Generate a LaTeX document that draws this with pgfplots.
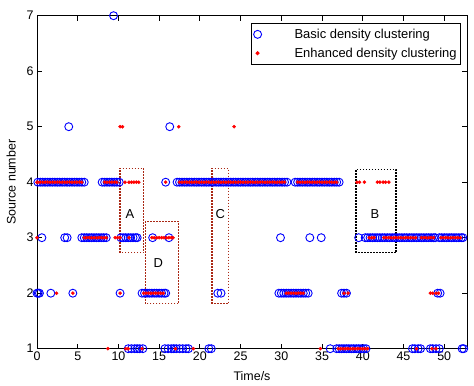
\documentclass[border=0pt]{standalone}
\usepackage{pgfplots}
\pgfplotsset{compat=1.18}
\usepackage{fontspec}
\setmainfont{Liberation Sans}
\definecolor{boxred}{RGB}{170,40,20}
\begin{document}
\begin{tikzpicture}
\begin{axis}[name=ax,
  scale only axis, width=430bp, height=333bp,
  xmin=0, xmax=52.8, ymin=1, ymax=7,
  xtick={0,5,...,50}, ytick={1,2,...,7},
  tick align=inside, tick pos=both, major tick length=5bp,
  axis line style={line width=0.8bp}, every tick/.style={black,line width=0.8bp},
  /pgf/number format/assume math mode=true,
  tick label style={font=\fontsize{12.5}{14}\selectfont},
  label style={font=\fontsize{12.5}{14}\selectfont},
  xlabel={Time/s}, ylabel={Source number},
  xlabel style={yshift=-4bp}, ylabel style={yshift=4bp},
  clip=false,
  legend image post style={xshift=20bp},
  legend style={at={(rel axis cs:0.986,0.978)}, anchor=north east, draw=black, line width=0.8bp,
    font=\fontsize{13}{15}\selectfont, inner xsep=2bp, inner ysep=3.5bp, row sep=4bp, column sep=31bp,
    cells={anchor=west}},
]
% Basic density clustering (blue circles)
\addplot[only marks, mark=o, mark size=4pt, blue, mark options={line width=0.9bp}] coordinates {
(9.4,7)
(3.9,5) (16.3,5)
(0.1,4)(0.4,4)(0.7,4)(1.0,4)(1.3,4)(1.6,4)(1.9,4)(2.2,4)(2.5,4)(2.8,4)(3.1,4)(3.4,4)(3.7,4)(4.0,4)(4.3,4)(4.6,4)(4.9,4)(5.2,4)(5.5,4)(5.8,4)
(8.0,4)(8.3,4)(8.6,4)(8.9,4)(9.2,4)(9.5,4)(9.8,4)(10.1,4)
(15.8,4)
(17.2,4)(17.5,4)(17.8,4)(18.1,4)(18.4,4)(18.7,4)(19.0,4)(19.3,4)(19.6,4)(19.9,4)(20.2,4)(20.5,4)(20.8,4)(21.1,4)(21.4,4)(21.7,4)(22.0,4)(22.3,4)(22.6,4)(22.9,4)(23.2,4)(23.5,4)(23.8,4)(24.1,4)(24.4,4)(24.7,4)(25.0,4)(25.3,4)(25.6,4)(25.9,4)(26.2,4)(26.5,4)(26.8,4)(27.1,4)(27.4,4)(27.7,4)(28.0,4)(28.3,4)(28.6,4)(28.9,4)(29.2,4)(29.5,4)(29.8,4)(30.1,4)(30.4,4)(30.7,4)
(31.7,4)(32.0,4)(32.3,4)(32.6,4)(32.9,4)(33.2,4)(33.5,4)(33.8,4)(34.1,4)(34.4,4)(34.7,4)(35.0,4)(35.3,4)(35.6,4)(35.9,4)(36.2,4)(36.5,4)(36.8,4)(37.1,4)
(0.6,3) (3.4,3)(3.7,3)
(5.5,3)(5.8,3)(6.1,3)(6.4,3)(6.7,3)(7.0,3)(7.3,3)(7.6,3)(7.9,3)(8.2,3)(8.5,3)
(10.3,3)(10.6,3)(10.9,3)(11.2,3)(11.5,3)(11.8,3)(12.1,3)(12.3,3)
(14.2,3)(16.2,3)
(29.9,3)(33.5,3)(34.9,3)
(39.5,3)
(40.3,3)(40.6,3)(40.9,3)(41.2,3)(41.5,3)(41.8,3)(42.1,3)(42.4,3)(42.7,3)(43.0,3)(43.3,3)(43.6,3)(43.9,3)(44.2,3)(44.5,3)(44.8,3)(45.1,3)(45.4,3)(45.7,3)(46.0,3)(46.3,3)(46.6,3)
(46.9,3)(47.2,3)(47.5,3)(47.8,3)(48.1,3)(48.4,3)(48.7,3)(48.9,3)
(49.4,3)(49.7,3)(50.0,3)(50.3,3)(50.6,3)(50.9,3)(51.2,3)(51.5,3)(51.8,3)(52.1,3)(52.3,3)
(0.0,2)(0.15,2)(0.3,2)(1.7,2)(4.4,2)(10.2,2)
(12.9,2)(13.2,2)(13.5,2)(13.8,2)(14.1,2)(14.4,2)(14.7,2)(15.0,2)(15.3,2)(15.6,2)(15.8,2)
(22.2,2)(22.6,2)
(29.7,2)(30.0,2)(30.3,2)(30.6,2)(30.9,2)(31.2,2)(31.5,2)(31.8,2)(32.1,2)(32.4,2)(32.7,2)(33.0,2)(33.3,2)
(37.4,2)(37.7,2)(38.0,2)
(49.2,2)(49.5,2)
(11.2,1)(11.6,1)(12.0,1)(12.3,1)(12.6,1)(13.0,1)
(15.7,1)(16.1,1)(16.5,1)(16.8,1)(17.1,1)(17.5,1)(17.9,1)(18.3,1)(18.6,1)
(21.1,1)(21.4,1)
(36.0,1)
(36.8,1)(37.1,1)(37.4,1)(37.7,1)(38.0,1)(38.3,1)(38.6,1)(38.9,1)(39.2,1)(39.5,1)(39.8,1)(40.1,1)(40.4,1)
(46.1,1)(46.4,1)(46.8,1)(47.1,1)
(48.3,1)(48.6,1)(49.0,1)(49.4,1)
(52.2,1)(52.4,1)
};
\addlegendentry{Basic density clustering}
% Enhanced density clustering (red dots)
\addplot[only marks, mark=*, mark size=1.6pt, red] coordinates {
(10.2,5)(10.5,5)(17.4,5)(24.2,5)
(0.0,4)(0.1,4)(0.4,4)(0.7,4)(1.0,4)(1.3,4)(1.6,4)(1.9,4)(2.2,4)(2.5,4)(2.8,4)(3.1,4)(3.4,4)(3.7,4)(4.0,4)(4.3,4)(4.6,4)(4.9,4)(5.2,4)(5.5,4)
(8.3,4)(8.6,4)(8.9,4)(9.2,4)(9.5,4)(9.8,4)
(10.8,4)(11.3,4)(11.6,4)(11.9,4)(12.2,4)(12.5,4)
(15.8,4)
(17.5,4)(17.8,4)(18.1,4)(18.4,4)(18.7,4)(19.0,4)(19.3,4)(19.6,4)(19.9,4)(20.2,4)(20.5,4)(20.8,4)(21.1,4)(21.4,4)(21.7,4)(22.0,4)(22.3,4)(22.6,4)(22.9,4)(23.2,4)(23.5,4)(23.8,4)(24.1,4)(24.4,4)(24.7,4)(25.0,4)(25.3,4)(25.6,4)(25.9,4)(26.2,4)(26.5,4)(26.8,4)(27.1,4)(27.4,4)(27.7,4)(28.0,4)(28.3,4)(28.6,4)(28.9,4)(29.2,4)(29.5,4)(29.8,4)(30.1,4)(30.4,4)
(32.0,4)(32.3,4)(32.6,4)(32.9,4)(33.2,4)(33.5,4)(33.8,4)(34.1,4)(34.4,4)(34.7,4)(35.0,4)(35.3,4)(35.6,4)(35.9,4)(36.2,4)(36.5,4)(36.8,4)
(39.3,4)(39.6,4)(40.2,4)(41.8,4)(42.1,4)(42.5,4)(42.8,4)(43.2,4)
(0.0,3)
(5.8,3)(6.1,3)(6.4,3)(6.7,3)(7.0,3)(7.3,3)(7.6,3)(7.9,3)(8.2,3)(8.5,3)
(9.6,3)(9.9,3)(10.2,3)(11.3,3)
(14.1,3)(14.4,3)(14.7,3)(15.0,3)(15.3,3)(15.6,3)(15.9,3)(16.2,3)(16.5,3)(16.7,3)
(40.8,3)(41.1,3)(41.4,3)
(42.6,3)(42.9,3)(43.2,3)(43.5,3)(43.8,3)(44.1,3)(44.4,3)(44.7,3)(45.0,3)(45.3,3)(45.6,3)(45.9,3)(46.2,3)(46.5,3)
(47.2,3)(47.5,3)(47.8,3)(48.1,3)(48.4,3)(48.7,3)
(49.6,3)(49.9,3)(50.2,3)(50.5,3)(50.8,3)(51.1,3)(51.4,3)(51.7,3)(52.0,3)
(2.4,2)(4.4,2)(10.2,2)
(13.1,2)(13.4,2)(13.7,2)(14.0,2)(14.3,2)(14.6,2)(14.9,2)(15.2,2)(15.5,2)
(30.6,2)(30.9,2)(31.2,2)(31.5,2)(31.8,2)(32.1,2)(32.4,2)(32.7,2)
(37.7,2)(38.2,2)
(48.3,2)(48.6,2)(49.0,2)(49.3,2)
(8.7,1)(10.9,1)(11.2,1)(12.9,1)(17.0,1)(19.2,1)(34.8,1)
(37.0,1)(37.3,1)(37.6,1)(37.9,1)(38.2,1)(38.5,1)(38.8,1)(39.1,1)(39.4,1)(39.7,1)(40.0,1)(40.3,1)(40.6,1)
(46.6,1)(48.5,1)(49.0,1)
};
\addlegendentry{Enhanced density clustering}
% annotation boxes
\draw[boxred, line width=1.5bp, dash pattern=on 1.5bp off 1.5bp] (axis cs:10.2,2.73) rectangle (axis cs:13.1,4.25);
\draw[boxred, line width=1.5bp, dash pattern=on 1.5bp off 1.5bp] (axis cs:13.3,1.81) rectangle (axis cs:17.4,3.29);
\draw[boxred, line width=1.5bp, dash pattern=on 1.5bp off 1.5bp] (axis cs:21.5,1.81) rectangle (axis cs:23.5,4.25);
\draw[black, line width=1.5bp, dash pattern=on 1.5bp off 1.5bp] (axis cs:39.2,2.73) rectangle (axis cs:44.1,4.23);
\node[font=\fontsize{13}{15}\selectfont] at (axis cs:11.4,3.42) {A};
\node[font=\fontsize{13}{15}\selectfont] at (axis cs:14.9,2.55) {D};
\node[font=\fontsize{13}{15}\selectfont] at (axis cs:22.5,3.42) {C};
\node[font=\fontsize{13}{15}\selectfont] at (axis cs:41.5,3.42) {B};
\end{axis}
\pgfresetboundingbox
\path[use as bounding box] ([shift={(-37bp,-37bp)}]ax.south west) rectangle ([shift={(7bp,15.7bp)}]ax.north east);
\end{tikzpicture}
\end{document}
